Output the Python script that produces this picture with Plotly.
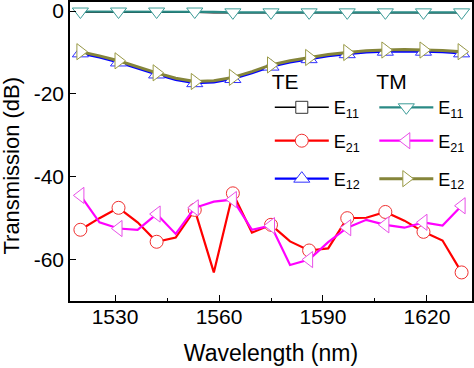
import plotly.graph_objects as go

wavelength = [1520.0, 1525.5, 1531.0, 1536.5, 1542.0, 1547.5, 1553.0, 1558.5, 1564.0, 1569.5,
              1575.0, 1580.5, 1586.0, 1591.5, 1597.0, 1602.5, 1608.0, 1613.5, 1619.0, 1624.5, 1630.0]

te_e11 = [-0.2, -0.2, -0.2, -0.3, -0.3, -0.3, -0.3, -0.4, -0.4, -0.4, -0.4,
          -0.4, -0.4, -0.4, -0.4, -0.4, -0.4, -0.4, -0.4, -0.4, -0.4]
te_e21 = [-52.8, -50.0, -47.5, -51.0, -55.7, -54.7, -48.0, -63.1, -44.0, -53.5, -51.6,
          -55.6, -57.8, -57.3, -50.0, -49.9, -48.5, -50.6, -53.3, -55.4, -63.1]
te_e12 = [-10.2, -11.2, -12.4, -13.9, -15.3, -16.6, -17.4, -17.2, -16.4, -15.0, -13.4,
          -12.4, -11.6, -10.9, -10.4, -10.0, -9.8, -9.7, -9.8, -9.9, -10.2]

tm_e11 = [-0.1, -0.1, -0.1, -0.1, -0.1, -0.1, -0.1, -0.2, -0.3, -0.3, -0.3,
          -0.3, -0.3, -0.3, -0.3, -0.3, -0.3, -0.3, -0.3, -0.3, -0.3]
tm_e21 = [-44.5, -51.0, -52.5, -52.8, -49.0, -53.8, -47.5, -46.0, -45.5, -52.8, -51.8,
          -61.3, -60.0, -55.8, -52.3, -50.4, -51.6, -52.3, -51.0, -51.8, -47.0]
tm_e12 = [-9.8, -10.8, -12.0, -13.5, -14.9, -16.2, -17.0, -16.8, -16.0, -14.6, -13.0,
          -12.0, -11.2, -10.5, -10.0, -9.6, -9.4, -9.3, -9.4, -9.5, -9.8]

y_ticks = [0, -20, -40, -60]
y_ticktext = ["0", "-20", "-40", "-60"]
x_ticks = [1530, 1560, 1590, 1620]

FONT = "Liberation Sans, Arial, sans-serif"
CLEAR = "rgba(0,0,0,0)"

series = [
    # name, values, line colour, marker symbol, marker line colour, line width, marker size, legend id
    ("E<sub>11</sub>", te_e11, "#000000", "square", "#333333", 1.5, 5, "legend"),
    ("E<sub>21</sub>", te_e21, "#FF0000", "circle", "#F03030", 2.2, 13, "legend2"),
    ("E<sub>12</sub>", te_e12, "#0000FF", "triangle-up", "#3030FF", 2.2, 14, "legend3"),
    ("E<sub>11</sub>", tm_e11, "#2A8A85", "triangle-down", "#3C9C98", 2.2, 14, "legend4"),
    ("E<sub>21</sub>", tm_e21, "#FF00FF", "triangle-left", "#E850E8", 2.2, 14, "legend5"),
    ("E<sub>12</sub>", tm_e12, "#85853A", "triangle-right", "#9A9A45", 3.0, 14, "legend6"),
]

n = len(wavelength)
fig = go.Figure()
for name, vals, lc, sym, mlc, lw, ms, leg in series:
    fills = ["white" if i % 2 == 0 else CLEAR for i in range(n)]
    edges = [mlc if i % 2 == 0 else CLEAR for i in range(n)]
    small = ms < 10
    fig.add_trace(go.Scatter(
        x=wavelength, y=vals, name=name, mode="lines+markers",
        line=dict(color=lc, width=lw),
        marker=dict(symbol=sym, size=ms, color=fills,
                    line=dict(color=edges, width=1)),
        legend=leg, showlegend=not small,
    ))
    if small:
        # legend key only (the data markers above sit hidden under the TM E11 markers)
        fig.add_trace(go.Scatter(
            x=[None], y=[None], name=name, mode="lines+markers",
            line=dict(color=lc, width=lw),
            marker=dict(symbol=sym, size=12, color="white", line=dict(color=mlc, width=1)),
            legend=leg, showlegend=True, hoverinfo="skip",
        ))

def leg(x, y, title=None):
    d = dict(
        x=x, y=y, visible=True,
        font=dict(family=FONT, size=18, color="#000000"),
        bgcolor=CLEAR, borderwidth=0,
        itemsizing="trace", itemwidth=54,
        xanchor="left", yanchor="top", tracegroupgap=0,
    )
    if title:
        d["title"] = dict(text=title, side="top", font=dict(family=FONT, size=21))
    return d

TE_X, TM_X = 0.497, 0.757
fig.update_layout(
    width=474, height=368, showlegend=True,
    margin=dict(l=70, r=2, t=2, b=67, autoexpand=False),
    paper_bgcolor="white", plot_bgcolor="white",
    font=dict(family=FONT, size=21, color="#000000"),
    legend=leg(TE_X, 0.80, "TE"),
    legend2=leg(TE_X, 0.597),
    legend3=leg(TE_X, 0.47),
    legend4=leg(TM_X, 0.80, "TM"),
    legend5=leg(TM_X, 0.597),
    legend6=leg(TM_X, 0.47),
    xaxis=dict(range=[1517, 1633], tickvals=x_ticks, ticks="inside", ticklen=6,
               tickwidth=1.2, tickcolor="black", showline=True, linecolor="black",
               linewidth=1.5, mirror=True, showgrid=False, zeroline=False,
               automargin=False, tickfont=dict(size=21), ticklabelstandoff=-4,
               ticklabeloverflow="allow",
               minor=dict(ticks="inside", ticklen=3, tickwidth=1.2, tickcolor="black",
                          tickvals=[1545, 1575, 1605], showgrid=False),
               title=dict(text="Wavelength (nm)", font=dict(size=23), standoff=18)),
    yaxis=dict(range=[-70, 2.2], tickvals=y_ticks, ticktext=y_ticktext, ticks="inside",
               ticklen=6, tickwidth=1.2, tickcolor="black", showline=True,
               linecolor="black", linewidth=1.5, mirror=True, showgrid=False,
               zeroline=False, automargin=False, tickfont=dict(size=21),
               ticklabeloverflow="allow"),
    annotations=[dict(text="Transmission (dB)", textangle=-90, xref="paper", yref="paper",
                      x=-0.145, y=0.452, xanchor="center", yanchor="middle",
                      showarrow=False, font=dict(family=FONT, size=22))],
)

fig.write_html("out.html", config={"displayModeBar": False},
               post_script="document.body.style.margin='0';")
